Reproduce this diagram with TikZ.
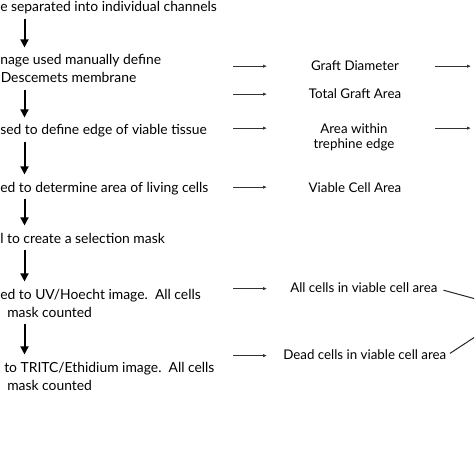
\documentclass[tikz,border=0pt]{standalone}
\usepackage{fontspec}
\setmainfont{Lato}
\usetikzlibrary{arrows.meta}

\begin{document}
\begin{tikzpicture}[
  x=0.75pt, y=-0.75pt,
  font=\fontsize{10.4}{12.5}\selectfont,
  passo/.style={draw=black, line width=1.5pt, -{Triangle[length=6.2pt,width=6pt]},
    shorten <=2.5pt, shorten >=5.5pt},
  freccina/.style={draw=black!80, line width=0.65pt, -{Latex[length=3pt,width=2.6pt]}},
  raccordo/.style={draw=black!85, line width=0.75pt},
  riga/.style={inner sep=0pt, anchor=base west, text height=7.4pt, text depth=2.3pt},
  esito/.style={inner sep=0pt, anchor=base, font=\fontsize{10}{12}\selectfont},
  conteggio/.style={riga, font=\fontsize{10}{12}\selectfont}
]

%--------------------------------------------------------------
% Cornice (la figura e' tagliata sui bordi)
%--------------------------------------------------------------
\useasboundingbox (0,0) rectangle (474,474);
\clip (0,0) rectangle (474,474);

%--------------------------------------------------------------
% Colonne di riferimento
%--------------------------------------------------------------
\coordinate (asse) at (24.5,0);
\coordinate (sx) at (233,0);
\coordinate (ex) at (267,0);
\coordinate (rx) at (435,0);
\coordinate (rex) at (471,0);
\coordinate (somma) at (516,310);

%--------------------------------------------------------------
% Passi della procedura (colonna sinistra)
%--------------------------------------------------------------
\node[riga] (t1)  at (0,12)    {e separated into individual channels};
\node[riga] (t2a) at (0,65)    {nage used manually define};
\node[riga] (t2b) at (0.5,83)  {Descemets membrane};
\node[riga] (t3)  at (0,135)   {sed to define edge of viable tissue};
\node[riga] (t4)  at (0,192)   {ed to determine area of living cells};
\node[riga] (t5)  at (0,243)   {l to create a selection mask};
\node[riga] (t6a) at (0,299)   {ed to UV/Hoecht image.\ \ All cells};
\node[riga] (t6b) at (7,317)   {mask counted};
\node[riga] (t7a) at (4,372)   {to TRITC/Ethidium image.\ \ All cells};
\node[riga] (t7b) at (7,390)   {mask counted};

\draw[passo] (asse |- t1.south)  -- (asse |- t2a.north);
\draw[passo] (asse |- t2b.south) -- (asse |- t3.north);
\draw[passo] (asse |- t3.south)  -- (asse |- t4.north);
\draw[passo] (asse |- t4.south)  -- (asse |- t5.north);
\draw[passo] (asse |- t5.south)  -- (asse |- t6a.north);
\draw[passo] (asse |- t6b.south) -- (asse |- t7a.north);

%--------------------------------------------------------------
% Misure ricavate
%--------------------------------------------------------------
\node[esito] (gd) at (355,71)  {Graft Diameter};
\node[esito] (ta) at (355,99)  {Total Graft Area};
\node[esito] (aw) at (354,133) {Area within};
\node[esito] (te) at (354,148) {trephine edge};
\node[esito] (va) at (355,192) {Viable Cell Area};
\node[conteggio] (ac) at (290,292) {All cells in viable cell area};
\node[conteggio] (dc) at (283,359) {Dead cells in viable cell area};

\draw[freccina] (sx |- gd) -- (ex |- gd);
\draw[freccina] (sx |- ta) -- (ex |- ta);
\draw[freccina] (sx |- aw) -- (ex |- aw);
\draw[freccina] (sx |- va) -- (ex |- va);
\draw[freccina] (sx |- ac) -- (ex |- ac);
\draw[freccina] (sx |- dc) -- (ex |- dc);
% verso la colonna successiva (fuori figura)
\draw[freccina] (rx |- gd) -- (rex |- gd);
\draw[freccina] (rx |- aw) -- (rex |- aw);

% raccordo dei due conteggi
\draw[raccordo, shorten <=4.5pt] (ac.east) -- (somma);
\draw[raccordo, shorten <=3pt] (dc.east) -- (somma);

\end{tikzpicture}
\end{document}
